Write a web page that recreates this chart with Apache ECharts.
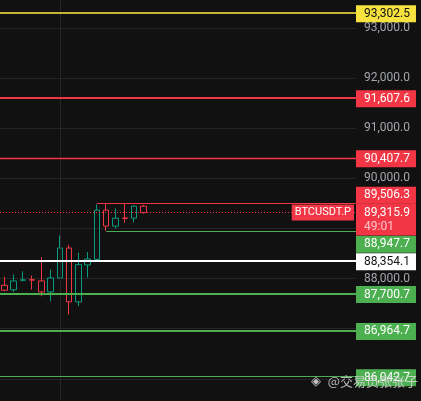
<!DOCTYPE html>
<html><head><meta charset="utf-8">
<script src="https://cdn.jsdelivr.net/npm/echarts@6/dist/echarts.min.js"></script>
<style>html,body{margin:0;padding:0;background:#111111}#c{width:421px;height:401px}</style>
</head><body><div id="c"></div>
<script>
// ---- data ----
const candleIndex = [0,1,2,3,4,5,6,7,8,9,10,11,12,13,14,15];
const opens  = [87866, 87775, 87966, 87978, 87953, 87735, 88013, 88609, 87536, 88271, 88383, 89364, 89046, 89210, 89205, 89444];
const closes = [87767, 87953, 87975, 87968, 87735, 88013, 88609, 87536, 88277, 88391, 89364, 89046, 89205, 89200, 89444, 89315.9];
const lows   = [87747, 87735, 87945, 87781, 87647, 87548, 88000, 87284, 87449, 88019, 88370, 88947.7, 88999, 89112, 89118, 89297];
const highs  = [88033, 88079, 88144, 88059, 88430, 88178, 88860, 88675, 88516, 88530, 89480, 89490, 89400, 89506.3, 89460, 89470];
const yTickMin = 85000, yTickMax = 94000, yTickStep = 1000;
const levels = [93302.5, 91607.6, 90407.7, 88354.1, 87700.7, 86964.7, 86042.7];
const rangeTop = 89506.3, rangeTopFrom = 10;
const rangeBottom = 88947.7, rangeBottomFrom = 11;
const lastPrice = 89315.9;
const symbolName = 'BTCUSDT.P';
const countdown = '49:01';
const timeGridAt = 6;
const watermark = '@交易员张张子';

// ---- styles ----
const RED = '#f23645', TEAL = '#089981', GREEN = '#4caf50';
const levelStyles = [
  {line:'#c2b534', box:'#f5e23e', text:'#111', width:2},
  {line:RED, box:RED, text:'#fff', width:2},
  {line:RED, box:RED, text:'#fff', width:1.3},
  {line:'#ffffff', box:'#ffffff', text:'#111', width:2},
  {line:GREEN, box:GREEN, text:'#fff', width:2},
  {line:GREEN, box:GREEN, text:'#fff', width:2},
  {line:GREEN, box:GREEN, text:'#fff', width:1}
];
const X_MIN = -0.464, X_MAX = 37.95;

function fmt(v){
  const s = v.toFixed(1).split('.');
  return s[0].replace(/\B(?=(\d{3})+(?!\d))/g, ',') + '.' + s[1];
}
const FONT = 'Roboto';
function boxLabel(text, bg, color, dy){
  return {show:true, position:'end', distance:0, formatter:text, color:color,
    backgroundColor:bg, padding:[3,6,3,8], fontSize:12, lineHeight:11,
    fontFamily:FONT, offset:[0, dy]};
}

const mlData = [];
mlData.push({xAxis: timeGridAt, lineStyle:{color:'#262626', width:1, type:'solid'}, label:{show:false}});
levels.forEach((v,i)=>{
  const st = levelStyles[i];
  mlData.push({yAxis: v, lineStyle:{color:st.line, width:st.width, type:'solid'},
    label: boxLabel(fmt(v), st.box, st.text, 1)});
});
mlData.push([{coord:[rangeTopFrom, rangeTop], lineStyle:{color:RED, width:1, type:'solid'},
  label: boxLabel(fmt(rangeTop), RED, '#fff', -7.7)}, {coord:[X_MAX, rangeTop]}]);
mlData.push([{coord:[rangeBottomFrom, rangeBottom], lineStyle:{color:GREEN, width:1, type:'solid'},
  label: boxLabel(fmt(rangeBottom), GREEN, '#fff', 13.3)}, {coord:[X_MAX, rangeBottom]}]);
mlData.push({yAxis: lastPrice, lineStyle:{color:RED, width:1, type:[1,2]},
  label:{show:true, position:'insideEnd', distance:2, formatter:symbolName, color:'#fff',
    backgroundColor:RED, padding:[3,3,2,3], fontSize:11, lineHeight:11, fontFamily:FONT}});
mlData.push([{coord:[X_MAX - 0.01, lastPrice], lineStyle:{color:'transparent', width:1},
  label:{show:true, position:'end', distance:0, formatter:'{a|'+fmt(lastPrice)+'}\n{b|'+countdown+'}',
    backgroundColor:RED, padding:[2,6,2,8], offset:[0,7],
    rich:{a:{color:'#fff', fontSize:12, lineHeight:14, fontFamily:FONT},
          b:{color:'rgba(255,255,255,0.72)', fontSize:12, lineHeight:14, fontFamily:FONT}}}},
  {coord:[X_MAX, lastPrice]}]);

const chart = echarts.init(document.getElementById('c'), null, {renderer:'canvas'});
chart.setOption({
  backgroundColor:'#111111',
  animation:false,
  grid:{left:0, right:65, top:-22.3, bottom:-28, outerBoundsMode:'none', containLabel:false},
  xAxis:{type:'value', min:X_MIN, max:X_MAX, show:true, axisLine:{show:false}, axisTick:{show:false},
    axisLabel:{show:false}, splitLine:{show:false}},
  yAxis:{type:'value', position:'right', min:yTickMin, max:yTickMax, interval:yTickStep,
    axisLine:{show:false}, axisTick:{show:false},
    axisLabel:{color:'#a3a6ad', fontSize:12, fontFamily:FONT, margin:8, formatter:v=>fmt(v)},
    splitLine:{lineStyle:{color:'#252525', width:1}}},
  series:[{
    type:'candlestick', clip:false,
    data: candleIndex.map((x,i)=>[x, opens[i], closes[i], lows[i], highs[i]]),
    encode:{x:0, y:[1,2,3,4]},
    barWidth:6,
    itemStyle:{color:'transparent', color0:'transparent', borderColor:TEAL, borderColor0:RED, borderWidth:1},
    markLine:{silent:true, symbol:'none', animation:false, data:mlData}
  }],
  graphic:[
    {type:'text', right:3, top:375, z:100, style:{text:watermark, fill:'rgba(215,215,215,0.85)', font:'13px "Noto Sans CJK SC"'}},
    {type:'text', left:311, top:375, z:100, style:{text:'◈', fill:'rgba(225,225,225,0.85)', font:'13px "DejaVu Sans"'}}
  ]
});
</script></body></html>
